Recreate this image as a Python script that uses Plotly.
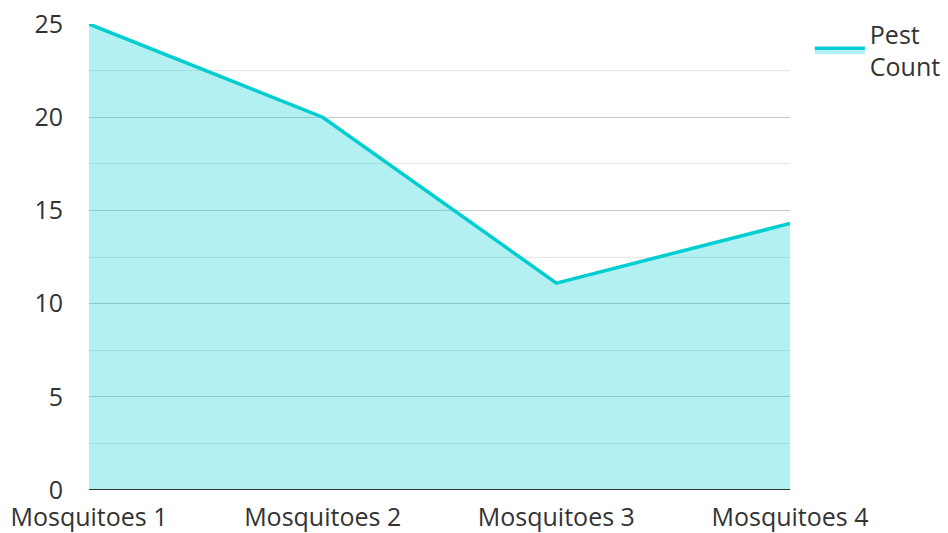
import plotly.graph_objects as go

categories = ["Mosquitoes 1", "Mosquitoes 2", "Mosquitoes 3", "Mosquitoes 4"]
pest_count = [25, 20, 11.1, 14.3]
series_name = "Pest<br>Count"

fig = go.Figure()
fig.add_trace(go.Scatter(
    x=categories, y=pest_count, name=series_name,
    mode="lines", fill="tozeroy",
    line=dict(color="#00CED1", width=3.5),
    fillcolor="rgba(0,206,209,0.3)",
    showlegend=True,
))

fig.update_layout(
    width=940, height=525,
    margin=dict(l=81, r=158, t=16, b=43),
    paper_bgcolor="white", plot_bgcolor="white",
    font=dict(family="Open Sans", size=25, color="#333"),
    showlegend=True,
    legend=dict(xref="container", yref="container", x=0.853, y=0.994,
                xanchor="left", yanchor="top",
                font=dict(size=25, color="#333"), itemwidth=50,
                bgcolor="rgba(0,0,0,0)"),
    xaxis=dict(type="category", range=[0, 3], showgrid=False,
               showline=False, zeroline=False, ticks="",
               ticklabelstandoff=10, automargin=False,
               ticklabeloverflow="allow"),
    yaxis=dict(range=[0, 25], tickvals=[0, 5, 10, 15, 20, 25],
               showgrid=True, gridcolor="#c8c8c8", gridwidth=1,
               minor=dict(dtick=2.5, showgrid=True, gridcolor="#e6e6e6", gridwidth=1, tick0=0),
               zeroline=False, showline=False, ticks="",
               ticklabelstandoff=25, automargin=False,
               ticklabeloverflow="allow"),
)
fig.add_shape(type="line", xref="paper", yref="y", x0=0, x1=1, y0=0, y1=0,
              line=dict(color="#333", width=2), layer="above")

fig.write_html("out.html")
